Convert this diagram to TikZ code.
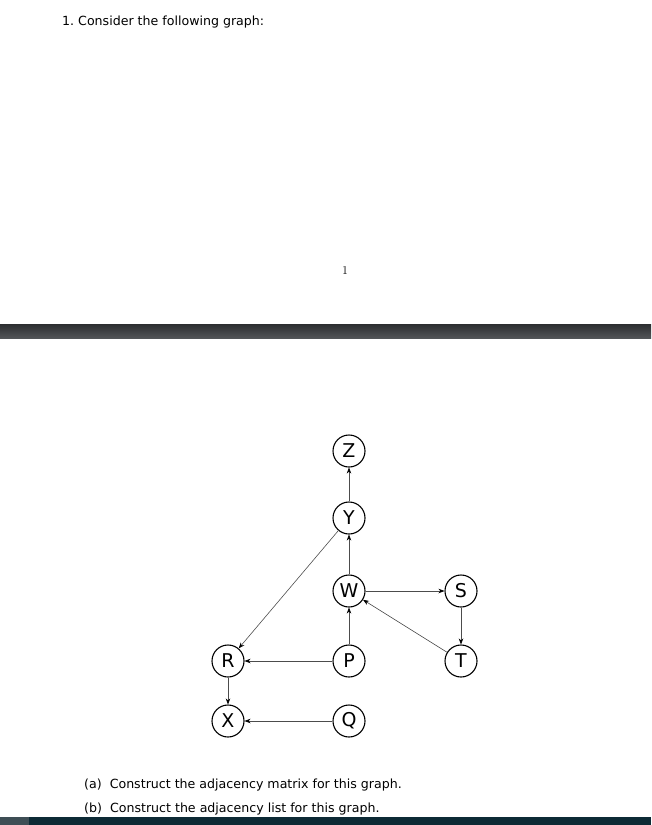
\documentclass[tikz,border=0pt]{standalone}
\usepackage{fontspec}
\newfontfamily\handfont{DejaVu Sans}
\usetikzlibrary{positioning,arrows.meta}

\definecolor{bartop}{HTML}{2C2D30}
\definecolor{barbottom}{HTML}{525558}
\definecolor{barteal}{HTML}{0D2A35}
\definecolor{bargray}{HTML}{3E4E55}

\begin{document}
\begin{tikzpicture}[x=1pt, y=-1pt, on grid,
  vertex/.style={draw, circle, line width=1.1pt, minimum size=32pt, inner sep=0pt, font=\handfont\fontsize{19}{19}\selectfont},
  edge/.style={draw=black!70, line width=0.6pt, -{Stealth[length=6pt,width=4.5pt,black]}},
  txt/.style={anchor=west, inner sep=0pt, font=\handfont\fontsize{12.6}{15}\selectfont}]
\useasboundingbox (0,0) rectangle (651,825);
\fill[white] (0,0) rectangle (651,825);

% first page
\node[txt] (question) at (62,22) {1.\ Consider the following graph:};
\node[inner sep=0pt, font=\fontsize{12}{12}\selectfont] (pagenum) at (345,271) {1};

% viewer bars
\shade[top color=bartop, bottom color=barbottom] (0,324) rectangle (651,338);
\fill[barteal] (0,817) rectangle (651,825);
\fill[bargray] (0,817) rectangle (29,825);

% the graph
\node[vertex] (w) at (349,591) {W};
\node[vertex, above=73pt of w] (y) {Y};
\node[vertex, above=67pt of y] (z) {Z};
\node[vertex, right=112pt of w] (s) {S};
\node[vertex, below=70pt of w] (p) {P};
\node[vertex, below=70pt of s] (t) {T};
\node[vertex, left=121pt of p] (r) {R};
\node[vertex, below=60pt of p] (q) {Q};
\node[vertex, below=60pt of r] (x) {X};

\draw[edge] (y) -- (z);
\draw[edge] (w) -- (y);
\draw[edge] (p) -- (w);
\draw[edge] (w) -- (s);
\draw[edge] (s) -- (t);
\draw[edge] (t) -- (w);
\draw[edge] (y) -- (r);
\draw[edge] (p) -- (r);
\draw[edge] (r) -- (x);
\draw[edge] (q) -- (x);

% questions
\node[txt] (parta) at (84,785) {(a)\ \ Construct the adjacency matrix for this graph.};
\node[txt] (partb) at (84,809) {(b)\ \ Construct the adjacency list for this graph.};
\end{tikzpicture}
\end{document}
